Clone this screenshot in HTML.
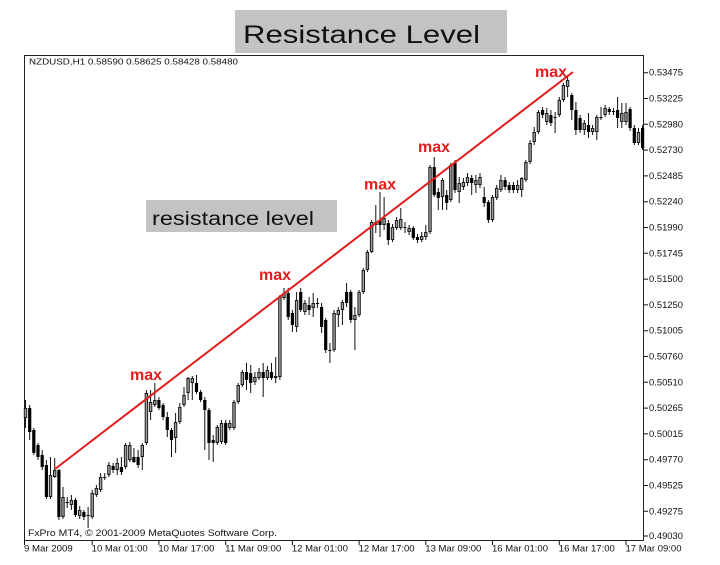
<!DOCTYPE html>
<html><head><meta charset="utf-8"><style>
html,body{margin:0;padding:0;background:#fff;}
svg{display:block;}
text{font-family:"Liberation Sans",sans-serif;fill:#111;}
</style></head><body>
<svg width="720" height="565" viewBox="0 0 720 565" xmlns="http://www.w3.org/2000/svg">
<rect width="720" height="565" fill="#fff"/>
<rect x="235" y="10" width="272" height="43" fill="#c3c3c3"/>
<text x="243" y="43" font-size="25" textLength="237" lengthAdjust="spacingAndGlyphs">Resistance Level</text>
<rect x="24.5" y="55.5" width="619" height="485" fill="none" stroke="#222" stroke-width="1"/>
<text x="29" y="64.5" font-size="8.5" textLength="209" lengthAdjust="spacingAndGlyphs">NZDUSD,H1  0.58590 0.58625 0.58428 0.58480</text>
<text x="28" y="536" font-size="9" textLength="249" lengthAdjust="spacingAndGlyphs">FxPro MT4, © 2001-2009 MetaQuotes Software Corp.</text>
<rect x="146" y="200" width="191" height="32" fill="#c3c3c3"/>
<text x="152" y="225" font-size="19" textLength="162" lengthAdjust="spacingAndGlyphs">resistance level</text>
<g stroke="#111" stroke-width="1">
<path d="M644 72.7h4M644 98.5h4M644 124.3h4M644 150.1h4M644 175.9h4M644 201.7h4M644 227.5h4M644 253.3h4M644 279.1h4M644 304.9h4M644 330.7h4M644 356.5h4M644 382.3h4M644 408.1h4M644 433.9h4M644 459.7h4M644 485.5h4M644 511.3h4M644 536h4"/>
<path d="M24.5 541v4M92.2 541v4M158.9 541v4M225.7 541v4M292.4 541v4M359.1 541v4M425.8 541v4M492.5 541v4M559.3 541v4M626 541v4"/>
</g>
<g font-size="9">
<text x="649" y="75.7" textLength="34" lengthAdjust="spacingAndGlyphs">0.53475</text>
<text x="649" y="101.5" textLength="34" lengthAdjust="spacingAndGlyphs">0.53225</text>
<text x="649" y="127.3" textLength="34" lengthAdjust="spacingAndGlyphs">0.52980</text>
<text x="649" y="153.1" textLength="34" lengthAdjust="spacingAndGlyphs">0.52730</text>
<text x="649" y="178.9" textLength="34" lengthAdjust="spacingAndGlyphs">0.52485</text>
<text x="649" y="204.7" textLength="34" lengthAdjust="spacingAndGlyphs">0.52240</text>
<text x="649" y="230.5" textLength="34" lengthAdjust="spacingAndGlyphs">0.51990</text>
<text x="649" y="256.3" textLength="34" lengthAdjust="spacingAndGlyphs">0.51745</text>
<text x="649" y="282.1" textLength="34" lengthAdjust="spacingAndGlyphs">0.51500</text>
<text x="649" y="307.9" textLength="34" lengthAdjust="spacingAndGlyphs">0.51250</text>
<text x="649" y="333.7" textLength="34" lengthAdjust="spacingAndGlyphs">0.51005</text>
<text x="649" y="359.5" textLength="34" lengthAdjust="spacingAndGlyphs">0.50760</text>
<text x="649" y="385.3" textLength="34" lengthAdjust="spacingAndGlyphs">0.50510</text>
<text x="649" y="411.1" textLength="34" lengthAdjust="spacingAndGlyphs">0.50265</text>
<text x="649" y="436.9" textLength="34" lengthAdjust="spacingAndGlyphs">0.50015</text>
<text x="649" y="462.7" textLength="34" lengthAdjust="spacingAndGlyphs">0.49770</text>
<text x="649" y="488.5" textLength="34" lengthAdjust="spacingAndGlyphs">0.49525</text>
<text x="649" y="514.3" textLength="34" lengthAdjust="spacingAndGlyphs">0.49275</text>
<text x="649" y="539" textLength="34" lengthAdjust="spacingAndGlyphs">0.49030</text>
<text x="24" y="551.5" textLength="48.7" lengthAdjust="spacingAndGlyphs">9 Mar 2009</text>
<text x="91.7" y="551.5" textLength="56" lengthAdjust="spacingAndGlyphs">10 Mar 01:00</text>
<text x="158.4" y="551.5" textLength="56" lengthAdjust="spacingAndGlyphs">10 Mar 17:00</text>
<text x="225.2" y="551.5" textLength="56" lengthAdjust="spacingAndGlyphs">11 Mar 09:00</text>
<text x="291.9" y="551.5" textLength="56" lengthAdjust="spacingAndGlyphs">12 Mar 01:00</text>
<text x="358.6" y="551.5" textLength="56" lengthAdjust="spacingAndGlyphs">12 Mar 17:00</text>
<text x="425.3" y="551.5" textLength="56" lengthAdjust="spacingAndGlyphs">13 Mar 09:00</text>
<text x="492" y="551.5" textLength="56" lengthAdjust="spacingAndGlyphs">16 Mar 01:00</text>
<text x="558.8" y="551.5" textLength="56" lengthAdjust="spacingAndGlyphs">16 Mar 17:00</text>
<text x="625.5" y="551.5" textLength="56" lengthAdjust="spacingAndGlyphs">17 Mar 09:00</text>
</g>
<!-- wicks -->
<path fill="none" stroke="#111" stroke-width="1" d="M25.5 400V428M29.7 405V440M33.8 428V455M38 443V460M42.2 450V470M46.4 460V499M50.5 457V499M54.7 458V478M58.9 469V520M63 487V519M67.2 497V508M71.4 495V510M75.5 498V517M79.7 506V519M83.9 510V520M88.1 507V528M92.2 490V519M96.4 485V497M100.6 473V492M104.7 473V480M108.9 462V477M113.1 463V473M117.2 458V475M121.4 457V475M125.6 443V469M129.8 442V462M133.9 448V463M138.1 450V468M142.3 443V470M146.4 390V445M150.6 390V420M154.8 383V407M158.9 397V410M163.1 403V420M167.3 412V437M171.5 428V457M175.6 413V453M179.8 403V424M184 387V407M188.1 377V400M192.3 376V400M196.5 375V394M200.6 390V402M204.8 397V450M209 408V460M213.2 435V462M217.3 425V445M221.5 420V444M225.7 420V445M229.8 420V430M234 400V430M238.2 383V404M242.3 370V387M246.5 363V390M250.7 365V393M254.9 372V385M259 368V380M263.2 363V397M267.4 366V380M271.5 363V380M275.7 357V383M279.9 295V380M284 288V300M288.2 288V320M292.4 310V332M296.6 292V332M300.7 288V312M304.9 300V315M309.1 297V315M313.2 293V317M317.4 298V308M321.6 303V333M325.7 318V353M329.9 343V363M334.1 310V352M338.3 307V327M342.4 300V325M346.6 283V307M350.8 290V323M354.9 307V350M359.1 290V317M363.3 268V294M367.4 250V272M371.6 220V253M375.8 205V233M380 192V237M384.1 197V230M388.3 220V245M392.5 224V242M396.6 217V230M400.8 208V230M405 222V233M409.1 225V235M413.3 226V240M417.5 234V243M421.7 232V242M425.8 225V240M430 165V234M434.2 157V197M438.3 188V210M442.5 178V210M446.7 190V210M450.8 163V202M455 160V193M459.2 177V203M463.4 178V190M467.5 173V186M471.7 175V195M475.9 175V193M480 173V188M484.2 187V207M488.4 200V223M492.5 195V222M496.7 185V200M500.9 175V192M505.1 177V190M509.2 182V193M513.4 182V193M517.6 180V193M521.7 177V197M525.9 160V182M530.1 140V164M534.2 127V145M538.4 110V134M542.6 107V118M546.8 108V125M550.9 110V126M555.1 112V133M559.3 97V117M563.4 83V102M567.6 75V97M571.8 93V120M575.9 102V135M580.1 115V133M584.3 120V135M588.5 113V138M592.6 125V135M596.8 115V140M601 107V120M605.1 105V117M609.3 107V115M613.5 108V115M617.6 97V128M621.8 103V128M626 103V125M630.1 107V131M634.3 125V145M638.5 128V145M642.6 125V150"/>
<!-- black bodies and crosses -->
<path fill="none" stroke="#000" stroke-width="3.2" d="M29.7 408V432M33.8 430V453M38 445V457M42.2 455V467M46.4 465V497M58.9 470V517M75.5 500V515M83.9 512V517M113.1 466V470M121.4 467V472M133.9 457V462M138.1 457V465M158.9 400V408M163.1 405V417M167.3 417V430M171.5 430V440M196.5 383V392M200.6 392V400M204.8 400V410M209 410V443M213.2 440V443M225.7 423V443M246.5 372V380M250.7 373V383M263.2 372V378M271.5 372V378M288.2 293V317M292.4 313V325M300.7 292V310M309.1 305V310M321.6 307V327M325.7 320V350M346.6 292V303M350.8 292V320M380 220V225M388.3 223V240M413.3 228V238M417.5 237V240M434.2 167V195M438.3 192V198M446.7 195V203M455 163V190M471.7 178V183M484.2 197V203M488.4 202V220M505.1 180V187M509.2 185V190M513.4 185V190M542.6 110V115M550.9 115V123M571.8 95V110M575.9 110V130M580.1 118V130M588.5 125V132M609.3 109V112M617.6 110V118M630.1 109V128M634.3 128V143M642.6 128V148M67.2 502V503M88.1 515V516M104.7 477V478M317.4 303V304M329.9 350V351M405 227V228M555.1 117V118M601 117V118M613.5 111V112"/>
<!-- bull bodies -->
<g fill="none">
<path stroke="#1a1a1a" stroke-width="3.4" d="M25.5 408V418M50.5 475V497M54.7 470V477M63 497V517M71.4 500V505M79.7 510V516M92.2 493V517M96.4 488V495M100.6 477V490M108.9 465V475M117.2 463V470M125.6 445V467M129.8 445V460M142.3 445V457M146.4 393V443M150.6 402V412M154.8 400V405M175.6 422V438M179.8 407V422M184 395V405M188.1 378V393M192.3 378V383M217.3 427V443M221.5 423V442M229.8 423V428M234 402V428M238.2 385V402M242.3 372V385M254.9 377V382M259 372V378M267.4 370V378M275.7 376V378M279.9 297V377M284 293V298M296.6 300V327M304.9 303V312M313.2 303V308M334.1 313V350M338.3 310V315M342.4 302V310M354.9 315V320M359.1 292V315M363.3 270V292M367.4 252V270M371.6 222V252M375.8 222V225M384.1 218V225M392.5 227V240M396.6 220V228M400.8 219V228M409.1 228V232M421.7 236V240M425.8 232V237M430 167V232M442.5 180V197M450.8 165V200M459.2 183V192M463.4 182V187M467.5 177V183M475.9 180V185M480 177V185M492.5 197V220M496.7 188V198M500.9 180V190M517.6 185V190M521.7 178V190M525.9 162V180M530.1 143V162M534.2 132V142M538.4 112V132M546.8 113V122M559.3 100V115M563.4 85V100M567.6 80V87M584.3 123V130M592.6 128V132M596.8 117V132M605.1 108V115M621.8 113V122M626 112V122M638.5 132V143"/>
<path stroke="#a4a4a4" stroke-width="1.4" d="M25.5 409V417M50.5 476V496M54.7 471V476M63 498V516M71.4 501V504M79.7 511V515M92.2 494V516M96.4 489V494M100.6 478V489M108.9 466V474M117.2 464V469M125.6 446V466M129.8 446V459M142.3 446V456M146.4 394V442M150.6 403V411M154.8 401V404M175.6 423V437M179.8 408V421M184 396V404M188.1 379V392M192.3 379V382M217.3 428V442M221.5 424V441M229.8 424V427M234 403V427M238.2 386V401M242.3 373V384M254.9 378V381M259 373V377M267.4 371V377M279.9 298V376M284 294V297M296.6 301V326M304.9 304V311M313.2 304V307M334.1 314V349M338.3 311V314M342.4 303V309M354.9 316V319M359.1 293V314M363.3 271V291M367.4 253V269M371.6 223V251M384.1 219V224M392.5 228V239M396.6 221V227M400.8 220V227M409.1 229V231M421.7 237V239M425.8 233V236M430 168V231M442.5 181V196M450.8 166V199M459.2 184V191M463.4 183V186M467.5 178V182M475.9 181V184M480 178V184M492.5 198V219M496.7 189V197M500.9 181V189M517.6 186V189M521.7 179V189M525.9 163V179M530.1 144V161M534.2 133V141M538.4 113V131M546.8 114V121M559.3 101V114M563.4 86V99M567.6 81V86M584.3 124V129M592.6 129V131M596.8 118V131M605.1 109V114M621.8 114V121M626 113V121M638.5 133V142"/>
</g>
<!-- resistance line -->
<line x1="55" y1="469" x2="573" y2="72" stroke="#e41c1c" stroke-width="2"/>
<g font-size="16" font-weight="bold">
<text x="130" y="380" style="fill:#e41c1c">max</text>
<text x="259" y="280" style="fill:#e41c1c">max</text>
<text x="364" y="189.5" style="fill:#e41c1c">max</text>
<text x="418" y="152" style="fill:#e41c1c">max</text>
<text x="535" y="77" style="fill:#e41c1c">max</text>
</g>
</svg>
</body></html>
